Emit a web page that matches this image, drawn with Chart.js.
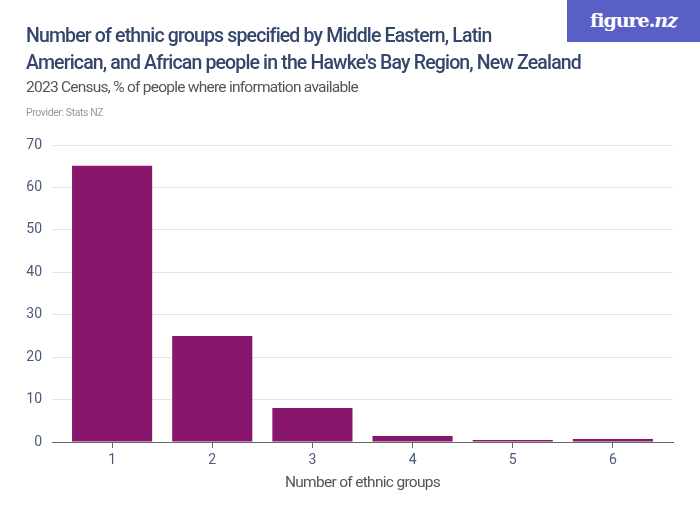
<!DOCTYPE html>
<html><head><meta charset="utf-8">
<script src="https://cdn.jsdelivr.net/npm/chart.js@4"></script>
<style>
html,body{margin:0;padding:0;background:#fff;}
#wrap{position:relative;width:700px;height:525px;overflow:hidden;font-family:"Roboto","Liberation Sans",sans-serif;}
canvas{position:absolute;left:0;top:0;}
.t{position:absolute;white-space:nowrap;}
#title{left:26px;top:22px;font-size:19.5px;line-height:27px;color:#34466b;font-weight:500;letter-spacing:-0.85px;}
#sub{left:26px;top:78px;font-size:15.5px;color:#555;letter-spacing:-0.75px;}
#prov{left:26px;top:106px;font-size:10.5px;color:#999;letter-spacing:-0.4px;}
#logo{position:absolute;left:567px;top:0;width:133px;height:42px;background:#5a5fc6;color:#fff;font-family:"DejaVu Serif","Liberation Serif",serif;font-weight:bold;font-size:19px;text-align:center;line-height:40px;letter-spacing:-1px;}
#xt{left:0;width:725px;text-align:center;top:473px;font-size:15.5px;color:#555;letter-spacing:-0.7px;}
</style></head><body>
<div id="wrap">
<canvas id="c" width="700" height="525"></canvas>
<div id="title" class="t">Number of ethnic groups specified by Middle Eastern, Latin<br>American, and African people in the Hawke's Bay Region, New Zealand</div>
<div id="sub" class="t">2023 Census, % of people where information available</div>
<div id="prov" class="t">Provider: Stats NZ</div>
<div id="logo">figure.<i>nz</i></div>
<div id="xt" class="t">Number of ethnic groups</div>
</div>
<script>
const categories = [1, 2, 3, 4, 5, 6];
const values = [65.1, 25.0, 8.0, 1.4, 0.5, 0.7];
const yTicks = [0, 10, 20, 30, 40, 50, 60, 70];

const FONT = '"Roboto","Liberation Sans",sans-serif';
new Chart(document.getElementById('c'), {
  type: 'bar',
  data: {
    datasets: [{
      data: categories.map((c, i) => ({x: c, y: values[i]})),
      backgroundColor: '#89166d',
      categoryPercentage: 0.8,
      barPercentage: 1.0
    }]
  },
  options: {
    responsive: false,
    animation: false,
    events: [],
    layout: {padding: {top: 145, right: 27, bottom: 23, left: 0}},
    plugins: {legend: {display: false}, tooltip: {enabled: false}},
    scales: {
      x: {
        type: 'linear',
        offset: false,
        min: 0.4, max: 6.6,
        afterBuildTicks: s => { s.ticks = categories.map(v => ({value: v})); },
        afterFit: s => { s.height = 60; },
        grid: {display: true, offset: false, drawOnChartArea: false, drawTicks: true, tickLength: 6, color: '#666', tickColor: '#666'},
        border: {display: true, color: '#666', width: 1},
        ticks: {font: {family: FONT, size: 14}, color: '#4a5a7a', padding: 4, callback: v => String(v)}
      },
      y: {
        min: 0, max: 70,
        afterBuildTicks: s => { s.ticks = yTicks.map(v => ({value: v})); },
        afterFit: s => { s.width = 52; },
        grid: {color: '#e3e3e3', drawTicks: false, lineWidth: 1},
        border: {display: false},
        ticks: {font: {family: FONT, size: 14}, color: '#4a5a7a', padding: 10}
      }
    }
  }
});
</script>
</body></html>
